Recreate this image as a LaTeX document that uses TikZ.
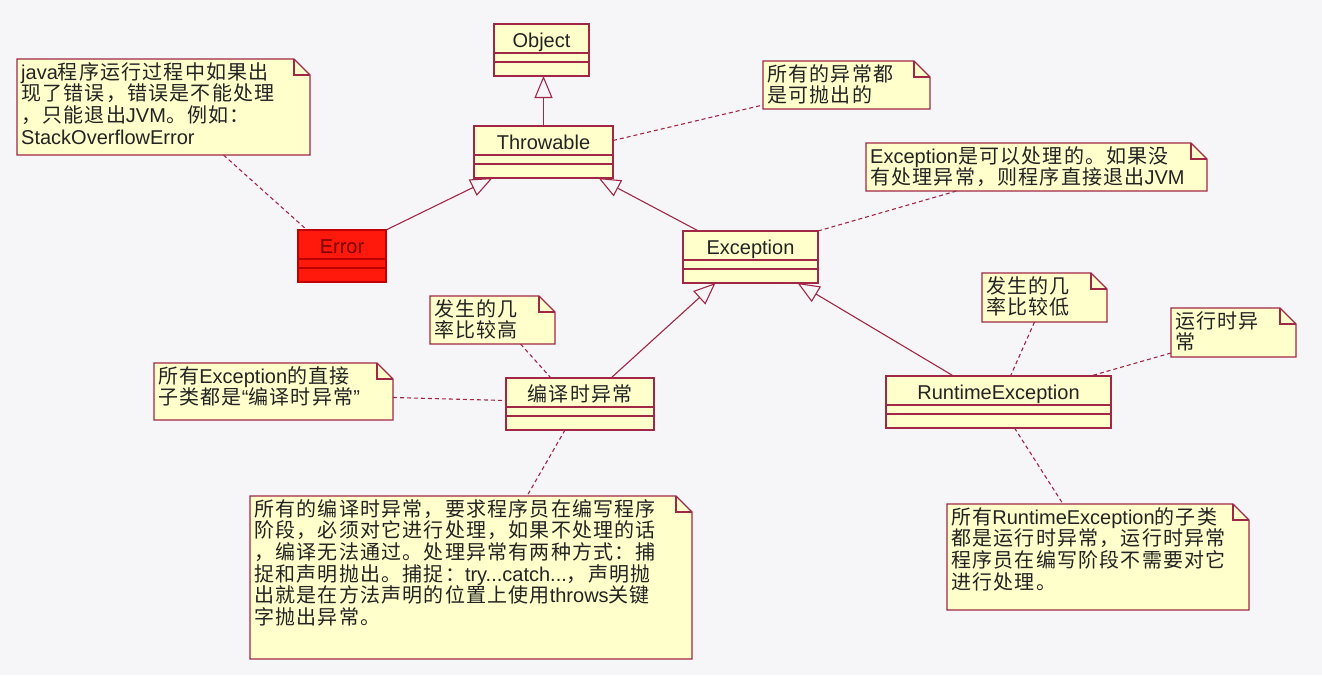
\documentclass[tikz,border=0pt]{standalone}
\usepackage{fontspec}
\setmainfont{Noto Sans CJK SC}[LetterSpace=6]
\newfontfamily\enfont{Liberation Sans}
\usetikzlibrary{arrows.meta}
\usetikzlibrary{calc}
\usetikzlibrary{positioning}

\definecolor{bord}{RGB}{160,40,70}
\definecolor{notefill}{RGB}{255,255,204}
\definecolor{errfill}{RGB}{255,24,12}
\definecolor{errline}{RGB}{190,0,0}
\definecolor{errtext}{RGB}{120,0,0}
\definecolor{bg}{RGB}{246,246,248}
\definecolor{ink}{RGB}{35,35,35}

\tikzset{
  cls/.style={draw=bord,fill=notefill,line width=1.1pt,inner sep=0pt,outer sep=0pt,
    text=ink,font=\enfont\fontsize{20}{24}\selectfont},
  errcls/.style={cls,draw=errline,fill=errfill,text=errtext},
  clsname/.style={text height=19pt,text depth=2pt},
  notebox/.style={anchor=north west,inner sep=0pt,outer sep=0pt},
  noteline/.style={draw=bord,fill=notefill,line width=1.1pt,line join=miter},
  notetext/.style={anchor=north west,align=left,inner sep=0pt,text=ink,
    font=\fontsize{20}{21.7}\selectfont},
  gen/.style={draw=bord,line width=1.1pt,-{Triangle[open,length=22pt,width=18pt]}},
  link/.style={draw=bord,line width=1.1pt,dash pattern=on 4pt off 3pt},
}

% class box: name, then two empty compartments
\newcommand\umlclass[5][cls]{%
  \node[#1,clsname,anchor=north west,minimum width=#4pt,minimum height=29pt] (#2) at (#3) {#5};
  \node[#1,minimum width=#4pt,minimum height=9pt,below=0pt of #2] (#2-m) {};
  \node[#1,minimum width=#4pt,minimum height=14pt,below=0pt of #2-m] (#2-f) {};
}
% note with folded corner
\newcommand\umlnote[5]{%
  \node[notebox,minimum width=#3pt,minimum height=#4pt] (#1) at (#2) {};
  \filldraw[noteline] (#1.south west) -- (#1.north west) -- ([xshift=-16pt]#1.north east)
    -- ([yshift=-16pt]#1.north east) -- (#1.south east) -- cycle;
  \draw[noteline,fill=none] ([xshift=-16pt]#1.north east) |- ([yshift=-16pt]#1.north east);
  \node[notetext] (#1-t) at ([xshift=4pt,yshift=-3pt]#1.north west) {#5};
}

\begin{document}
\begin{tikzpicture}[x=1pt,y=-1pt]
\fill[bg] (0,0) rectangle (1322,675);
\useasboundingbox (0,0) rectangle (1322,675);

%=== Classes
\umlclass{obj}{494,24}{95}{Object}
\umlclass{thr}{474,126}{139}{Throwable}
\umlclass[errcls]{err}{298,230}{88}{Error}
\umlclass{exc}{683,231}{135}{Exception}
\umlclass{cmp}{506,378}{148}{{\rmfamily 编译时异常}}
\umlclass{rte}{886,376}{225}{RuntimeException}

%=== Notes
\umlnote{njava}{17,59}{293}{96}{{\enfont java}程序运行过程中如果出\\现了错误，错误是不能处理\\，只能退出{\enfont JVM}。例如：\\{\enfont StackOverflowError}}
\umlnote{nthrow}{763,61}{167}{48}{所有的异常都\\是可抛出的}
\umlnote{nexc}{866,143}{341}{48}{{\enfont Exception}是可以处理的。如果没\\有处理异常，则程序直接退出{\enfont JVM}}
\umlnote{nhigh}{430,296}{125}{48}{发生的几\\率比较高}
\umlnote{ndirect}{154,363}{239}{57}{所有{\enfont Exception}的直接\\子类都是{\enfont “}编译时异常{\enfont ”}}
\umlnote{ncmp}{250,496}{442}{163}{所有的编译时异常，要求程序员在编写程序\\阶段，必须对它进行处理，如果不处理的话\\，编译无法通过。处理异常有两种方式：捕\\捉和声明抛出。捕捉：{\enfont try...catch...}，声明抛\\出就是在方法声明的位置上使用{\enfont throws}关键\\字抛出异常。}
\umlnote{nlow}{982,273}{125}{49}{发生的几\\率比较低}
\umlnote{nrun}{1171,308}{125}{49}{运行时异\\常}
\umlnote{nrte}{947,504}{302}{106}{所有{\enfont RuntimeException}的子类\\都是运行时异常，运行时异常\\程序员在编写阶段不需要对它\\进行处理。}

%=== Inheritance
\draw[gen] (thr.north) -- (thr.north |- obj-f.south);
\draw[gen] (err.north east) -- ([xshift=-51pt]thr-f.south);
\draw[gen] ([xshift=-52pt]exc.north) -- ([xshift=55pt]thr-f.south);
\draw[gen] ([xshift=31pt]cmp.north) -- ([xshift=-35pt]exc-f.south);
\draw[gen] ([xshift=-45pt]rte.north) -- ([xshift=47pt]exc-f.south);

%=== Note links
\draw[link] ([xshift=60pt]njava.south) -- ([xshift=-35pt]err.north);
\draw[link] (thr.east) -- ([yshift=4pt]nthrow.south west);
\draw[link] (exc.north east) -- ([xshift=-80pt]nexc.south);
\draw[link] ([xshift=28pt]nhigh.south) -- ([xshift=-29pt]cmp.north);
\draw[link] ([yshift=-6pt]ndirect.east) -- ([yshift=-8pt]cmp.west);
\draw[link] ([xshift=-15pt]cmp-f.south) -- ([xshift=56pt]ncmp.north);
\draw[link] ([xshift=-10pt]nlow.south) -- ([xshift=12pt]rte.north);
\draw[link] ([yshift=4pt]nrun.south west) -- ([xshift=92pt]rte.north);
\draw[link] ([xshift=16pt]rte-f.south) -- ([xshift=-35pt]nrte.north);
\end{tikzpicture}
\end{document}
